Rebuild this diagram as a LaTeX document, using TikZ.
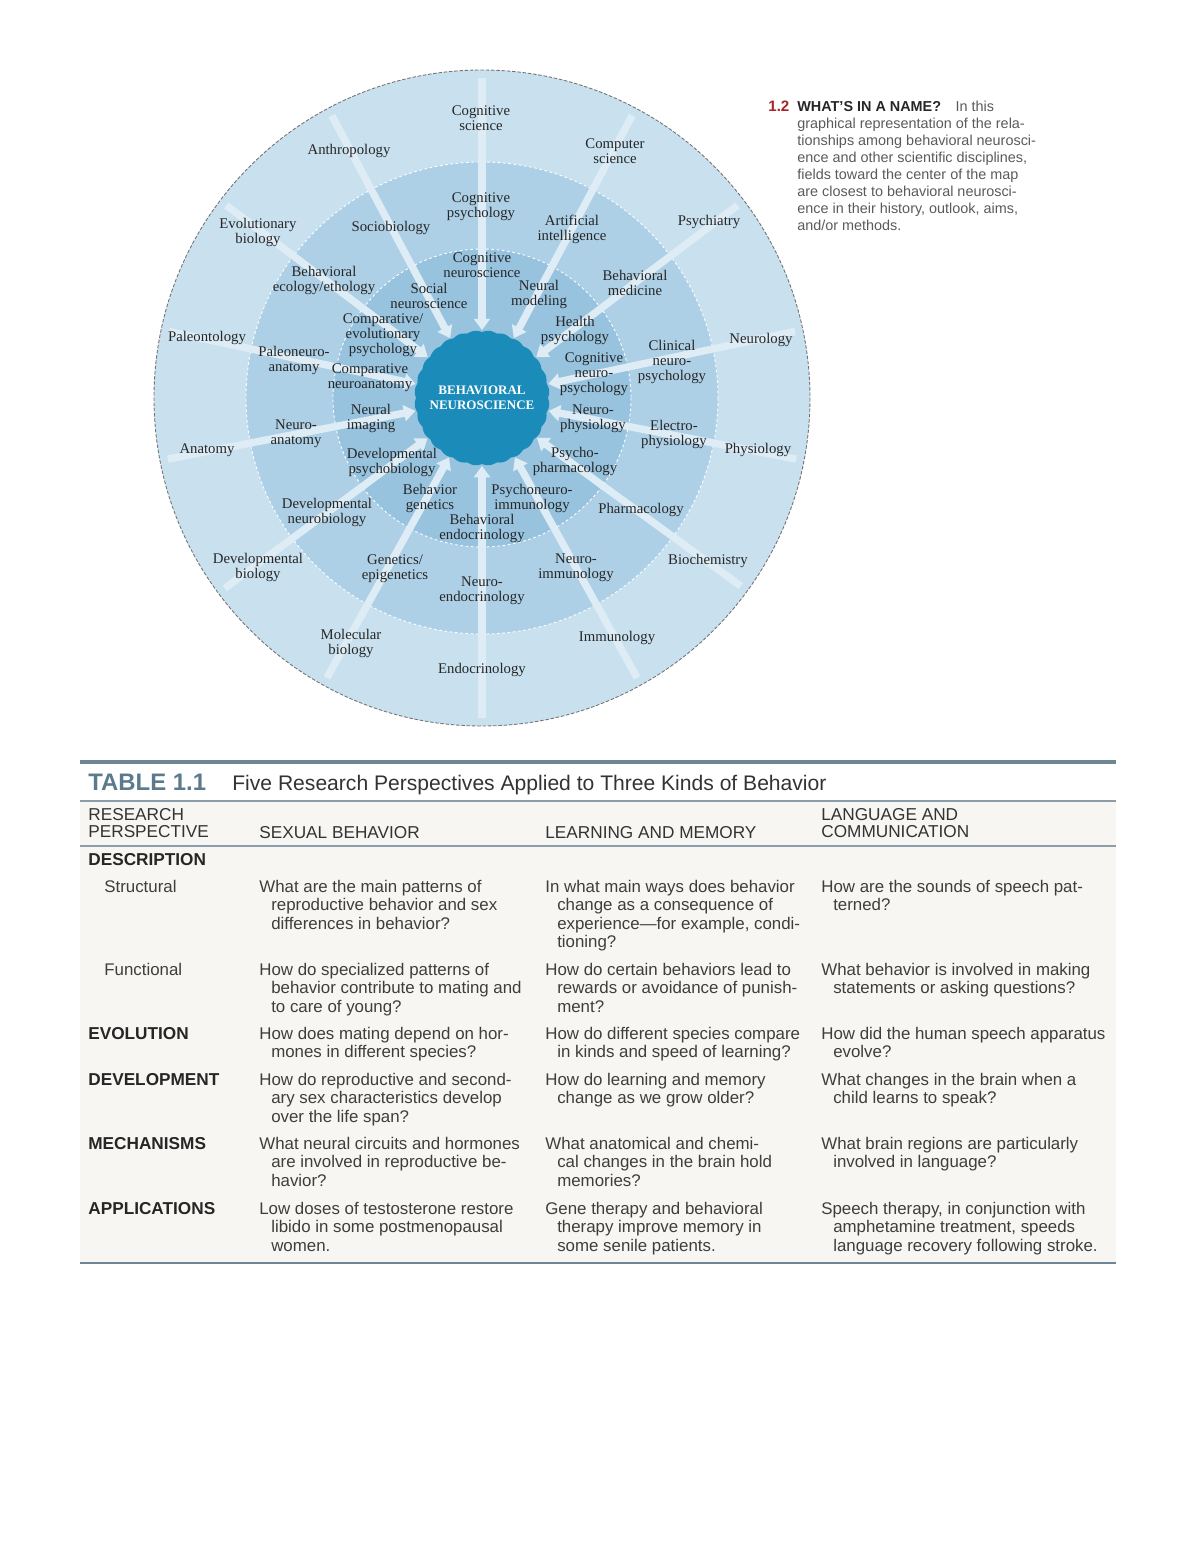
\documentclass[tikz,border=0pt]{standalone}
\usepackage{fontspec}
\setmainfont{Liberation Serif}
\setsansfont{Liberation Sans}
\usepackage{xcolor}
\usetikzlibrary{arrows.meta}

\definecolor{ringout}{RGB}{201,225,239}
\definecolor{ringmid}{RGB}{174,208,230}
\definecolor{ringin}{RGB}{151,195,223}
\definecolor{core}{RGB}{27,139,186}
\definecolor{spoke}{RGB}{222,236,246}
\definecolor{figred}{RGB}{168,36,40}
\definecolor{capgray}{RGB}{90,90,90}
\definecolor{tabblue}{RGB}{92,122,140}
\definecolor{tabrule}{RGB}{110,133,148}
\definecolor{tabbg}{RGB}{247,246,242}
\definecolor{tabtext}{RGB}{62,62,62}

\newcommand\cellt[1]{\begin{tabular}[t]{@{}l@{}}#1\end{tabular}}
\newcommand\tind{\hspace*{6.8pt}}

\begin{document}
\begin{tikzpicture}[x=0.02cm, y=-0.02cm,
  field/.style={align=center, inner sep=0pt, text=black!85, font=\fontsize{8.4}{8.5}\selectfont},
  hub/.style={circle, minimum size=2.7cm, inner sep=0pt, align=center, text=white, font=\bfseries\fontsize{7.4}{8.5}\selectfont},
  spokearr/.style={draw=spoke, line width=4.2pt, -{Triangle[width=9pt, length=6.5pt]}},
  tcell/.style={anchor=base west, inner sep=0pt, text=tabtext, font=\sffamily\fontsize{9.6}{10.6}\selectfont},
  trow/.style={tcell, text=black!85, font=\sffamily\bfseries\fontsize{9.8}{10.6}\selectfont},
  thead/.style={tcell, text=black!80, font=\sffamily\fontsize{9.8}{10.2}\selectfont},
  capt/.style={anchor=base west, inner sep=0pt, text=capgray, font=\sffamily\fontsize{8.2}{9.75}\selectfont}
]
\useasboundingbox (0,0) rectangle (1200,1553);

% rings of the map
\fill[ringout] (482,398) circle (328);
\draw[black!55, line width=0.5pt, dash pattern=on 2pt off 1pt] (482,398) circle (328);
\fill[ringmid] (482,398) circle (236);
\draw[white, line width=0.5pt, dash pattern=on 1.5pt off 1.5pt] (482,398) circle (236);
\fill[ringin] (482,398) circle (149);
\draw[white, line width=0.5pt, dash pattern=on 1.5pt off 1.5pt] (482,398) circle (149);

% hub
\fill[core, shift={(482,398)}] plot[domain=0:360, samples=241] (\x:{66+1.6*abs(sin(14*\x))}) -- cycle;
\node[hub] (hub) at (482,398) {BEHAVIORAL\\NEUROSCIENCE};

% spokes
\foreach \ang [count=\k] in {90,62,37,12,-11,-36,-61,-90,-119,-143.5,-169,168,143,118}{
  \path (482,398) ++(-\ang:320) coordinate (sp\k);
  \draw[spokearr] (sp\k) -- (hub);
}

% outer ring
\node[field] (cogsci) at (481,118) {Cognitive\\science};
\node[field] (anthro) at (349,151) {Anthropology};
\node[field] (compsci) at (615,151) {Computer\\science};
\node[field] (evobio) at (258,232) {Evolutionary\\biology};
\node[field] (psychiatry) at (709,222) {Psychiatry};
\node[field] (paleo) at (207,338) {Paleontology};
\node[field] (neurology) at (761,340) {Neurology};
\node[field] (anatomy) at (207,450) {Anatomy};
\node[field] (physiology) at (758,450) {Physiology};
\node[field] (devbio) at (258,567) {Developmental\\biology};
\node[field] (biochem) at (708,561) {Biochemistry};
\node[field] (molbio) at (351,643) {Molecular\\biology};
\node[field] (immuno) at (617,638) {Immunology};
\node[field] (endo) at (482,670) {Endocrinology};

% middle ring
\node[field] (cogpsy) at (481,207) {Cognitive\\psychology};
\node[field] (sociobio) at (391,228) {Sociobiology};
\node[field] (ai) at (572,229) {Artificial\\intelligence};
\node[field] (behecol) at (324,280) {Behavioral\\ecology/ethology};
\node[field] (behmed) at (635,283) {Behavioral\\medicine};
\node[field] (paleoanat) at (294,360) {Paleoneuro-\\anatomy};
\node[field] (clinneuro) at (672,362) {Clinical\\neuro-\\psychology};
\node[field] (neuroanat) at (296,434) {Neuro-\\anatomy};
\node[field] (electro) at (674,434) {Electro-\\physiology};
\node[field] (devneuro) at (327,512) {Developmental\\neurobiology};
\node[field] (pharma) at (641,510) {Pharmacology};
\node[field] (genetics) at (395,569) {Genetics/\\epigenetics};
\node[field] (neuroimm) at (576,568) {Neuro-\\immunology};
\node[field] (neuroendo) at (482,591) {Neuro-\\endocrinology};

% inner ring
\node[field] (cogneuro) at (482,265) {Cognitive\\neuroscience};
\node[field] (socneuro) at (429,296) {Social\\neuroscience};
\node[field] (neuromod) at (539,294) {Neural\\modeling};
\node[field] (compevo) at (383,335) {Comparative/\\evolutionary\\psychology};
\node[field] (health) at (575,330) {Health\\psychology};
\node[field] (companat) at (370,378) {Comparative\\neuroanatomy};
\node[field] (cogneuropsy) at (594,374) {Cognitive\\neuro-\\psychology};
\node[field] (imaging) at (371,418) {Neural\\imaging};
\node[field] (neurophys) at (593,419) {Neuro-\\physiology};
\node[field] (devpsy) at (392,462) {Developmental\\psychobiology};
\node[field] (psychopharm) at (575,461) {Psycho-\\pharmacology};
\node[field] (behgen) at (430,498) {Behavior\\genetics};
\node[field] (pni) at (532,498) {Psychoneuro-\\immunology};
\node[field] (behendo) at (482,528) {Behavioral\\endocrinology};

% caption
\node[capt, text=figred, font=\sffamily\bfseries\fontsize{8.6}{9.75}\selectfont] (capnum) at (768,111) {1.2};
\node[capt] (captext) at (797,111) {\cellt{\textcolor{black!85}{\textbf{WHAT'S IN A NAME?}}\quad In this\\
  graphical representation of the rela-\\
  tionships among behavioral neurosci-\\
  ence and other scientific disciplines,\\
  fields toward the center of the map\\
  are closest to behavioral neurosci-\\
  ence in their history, outlook, aims,\\
  and/or methods.}};

% table
\fill[tabbg] (80,801) rectangle (1116,1263);
\draw[tabrule, line width=2.3pt] (80,762) -- (1116,762);
\draw[tabrule!80, line width=0.7pt] (80,801) -- (1116,801);
\draw[tabrule!80, line width=0.7pt] (80,846) -- (1116,846);
\draw[tabrule, line width=1.6pt] (80,1263) -- (1116,1263);

\node[anchor=base west, inner sep=0pt, text=tabblue, font=\sffamily\bfseries\fontsize{13.6}{16}\selectfont] (tabnum) at (88,790) {TABLE 1.1};
\node[anchor=base west, inner sep=0pt, text=black!80, font=\sffamily\fontsize{12}{14}\selectfont] (tabtitle) at (232,790) {Five Research Perspectives Applied to Three Kinds of Behavior};

\node[thead] (hpersp) at (88,820) {\cellt{RESEARCH\\PERSPECTIVE}};
\node[thead] (hsex) at (259,838) {SEXUAL BEHAVIOR};
\node[thead] (hlearn) at (545,838) {LEARNING AND MEMORY};
\node[thead] (hlang) at (821,820) {\cellt{LANGUAGE AND\\COMMUNICATION}};

\node[trow] (rdesc) at (88,865) {DESCRIPTION};

\node[tcell] (rstruct) at (104,892) {Structural};
\node[tcell] (struct1) at (259,892) {\cellt{What are the main patterns of\\\tind reproductive behavior and sex\\\tind differences in behavior?}};
\node[tcell] (struct2) at (545,892) {\cellt{In what main ways does behavior\\\tind change as a consequence of\\\tind experience---for example, condi-\\\tind tioning?}};
\node[tcell] (struct3) at (821,892) {\cellt{How are the sounds of speech pat-\\\tind terned?}};

\node[tcell] (rfunc) at (104,975) {Functional};
\node[tcell] (func1) at (259,975) {\cellt{How do specialized patterns of\\\tind behavior contribute to mating and\\\tind to care of young?}};
\node[tcell] (func2) at (545,975) {\cellt{How do certain behaviors lead to\\\tind rewards or avoidance of punish-\\\tind ment?}};
\node[tcell] (func3) at (821,975) {\cellt{What behavior is involved in making\\\tind statements or asking questions?}};

\node[trow] (revo) at (88,1039) {EVOLUTION};
\node[tcell] (evo1) at (259,1039) {\cellt{How does mating depend on hor-\\\tind mones in different species?}};
\node[tcell] (evo2) at (545,1039) {\cellt{How do different species compare\\\tind in kinds and speed of learning?}};
\node[tcell] (evo3) at (821,1039) {\cellt{How did the human speech apparatus\\\tind evolve?}};

\node[trow] (rdev) at (88,1085) {DEVELOPMENT};
\node[tcell] (dev1) at (259,1085) {\cellt{How do reproductive and second-\\\tind ary sex characteristics develop\\\tind over the life span?}};
\node[tcell] (dev2) at (545,1085) {\cellt{How do learning and memory\\\tind change as we grow older?}};
\node[tcell] (dev3) at (821,1085) {\cellt{What changes in the brain when a\\\tind child learns to speak?}};

\node[trow] (rmech) at (88,1149) {MECHANISMS};
\node[tcell] (mech1) at (259,1149) {\cellt{What neural circuits and hormones\\\tind are involved in reproductive be-\\\tind havior?}};
\node[tcell] (mech2) at (545,1149) {\cellt{What anatomical and chemi-\\\tind cal changes in the brain hold\\\tind memories?}};
\node[tcell] (mech3) at (821,1149) {\cellt{What brain regions are particularly\\\tind involved in language?}};

\node[trow] (rapp) at (88,1214) {APPLICATIONS};
\node[tcell] (app1) at (259,1214) {\cellt{Low doses of testosterone restore\\\tind libido in some postmenopausal\\\tind women.}};
\node[tcell] (app2) at (545,1214) {\cellt{Gene therapy and behavioral\\\tind therapy improve memory in\\\tind some senile patients.}};
\node[tcell] (app3) at (821,1214) {\cellt{Speech therapy, in conjunction with\\\tind amphetamine treatment, speeds\\\tind language recovery following stroke.}};

\end{tikzpicture}
\end{document}
